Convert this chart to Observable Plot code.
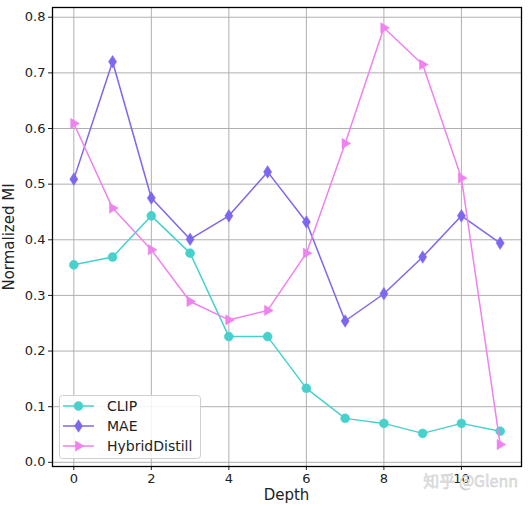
<!DOCTYPE html>
<html><head><meta charset="utf-8">
<script src="https://cdn.jsdelivr.net/npm/d3@7"></script>
<script src="https://cdn.jsdelivr.net/npm/@observablehq/plot@0.6"></script>
<style>body{margin:0;background:#fff} svg{display:block}</style>
</head><body><div id="chart"></div>
<script>
const depths = [0,1,2,3,4,5,6,7,8,9,10,11];
const seriesNames = ["CLIP","MAE","HybridDistill"];
const clip   = [0.355,0.369,0.443,0.376,0.226,0.226,0.133,0.079,0.070,0.052,0.070,0.056];
const mae    = [0.509,0.720,0.475,0.401,0.443,0.522,0.432,0.254,0.303,0.369,0.443,0.394];
const hybrid = [0.609,0.457,0.382,0.289,0.256,0.273,0.376,0.573,0.781,0.715,0.511,0.032];
const xTicks = [0,2,4,6,8,10];
const yTicks = [0,0.1,0.2,0.3,0.4,0.5,0.6,0.7,0.8];
const colors = ["#48D1CC","#7B68EE","#EE82EE"];

const values = [clip, mae, hybrid];
const rows = [];
seriesNames.forEach((name,i)=>depths.forEach((d,j)=>rows.push({series:name, depth:d, value:values[i][j]})));

const circleSym = {draw(ctx,size){const r=Math.sqrt(size/Math.PI); ctx.moveTo(r,0); ctx.arc(0,0,r,0,2*Math.PI);}};
const thinDiamond = {draw(ctx,size){const r=Math.sqrt(size/Math.PI); const h=r*1.4,w=r*0.9; ctx.moveTo(0,-h); ctx.lineTo(w,0); ctx.lineTo(0,h); ctx.lineTo(-w,0); ctx.closePath();}};
const triRight = {draw(ctx,size){const r=Math.sqrt(size/Math.PI); ctx.moveTo(r*1.25,0); ctx.lineTo(-r*0.7,-r*1.15); ctx.lineTo(-r*0.7,r*1.15); ctx.closePath();}};
const symbols = [circleSym, thinDiamond, triRight];

const marks = [
  Plot.gridX(xTicks, {stroke:"#b0b0b0", strokeOpacity:1, strokeWidth:1}),
  Plot.gridY(yTicks, {stroke:"#b0b0b0", strokeOpacity:1, strokeWidth:1}),
];
seriesNames.forEach((name,i)=>{
  const d = rows.filter(r=>r.series===name);
  marks.push(Plot.line(d, {x:"depth", y:"value", stroke:colors[i], strokeWidth:1.5}));
  marks.push(Plot.dot(d, {x:"depth", y:"value", fill:colors[i], stroke:colors[i], strokeWidth:0.5, r:4.5, symbol:symbols[i]}));
});
marks.push(Plot.axisX(xTicks, {tickSize:4, tickPadding:3, label:null, fontSize:13}));
marks.push(Plot.axisY(yTicks, {tickSize:4, tickPadding:3, label:null, fontSize:13, tickFormat:d3.format(".1f")}));
marks.push(Plot.frame({stroke:"#000", strokeWidth:1.3}));

const plot = Plot.plot({
  width:528, height:506,
  marginLeft:52, marginRight:7, marginTop:7, marginBottom:40,
  style:{fontFamily:"DejaVu Sans", fontSize:"13px", color:"#222", background:"#fff"},
  x:{domain:[-0.55,11.55]},
  y:{domain:[-0.0075,0.8175]},
  marks
});
document.getElementById("chart").appendChild(plot);

const svg = d3.select(plot);
svg.append("text").attr("x",286.5).attr("y",500).attr("text-anchor","middle")
  .attr("font-family","DejaVu Sans").attr("font-size",15).attr("fill","#222").text("Depth");
svg.append("text").attr("transform","translate(14,237) rotate(-90)").attr("text-anchor","middle")
  .attr("font-family","DejaVu Sans").attr("font-size",15).attr("fill","#222").text("Normalized MI");

const lg = svg.append("g");
lg.append("rect").attr("x",59.5).attr("y",395.5).attr("width",141).attr("height",63).attr("rx",3)
  .attr("fill","#fff").attr("fill-opacity",0.85).attr("stroke","#d0d0d0");
seriesNames.forEach((name,i)=>{
  const y = 406 + i*20;
  lg.append("line").attr("x1",63).attr("x2",94).attr("y1",y).attr("y2",y).attr("stroke",colors[i]).attr("stroke-width",1.5);
  const p = d3.path(); symbols[i].draw(p, Math.PI*4.5*4.5);
  lg.append("path").attr("d",p.toString()).attr("transform",`translate(78.5,${y})`).attr("fill",colors[i]).attr("stroke",colors[i]).attr("stroke-width",0.5);
  lg.append("text").attr("x",107).attr("y",y).attr("dy","0.35em").attr("text-anchor","start")
    .attr("font-family","DejaVu Sans").attr("font-size",14).attr("fill","#222").text(name);
});

svg.append("text").attr("x",518).attr("y",487).attr("text-anchor","end")
  .attr("font-family","Noto Sans CJK SC").attr("font-size",16).attr("fill","#e4e4e4")
  .attr("stroke","#c8c8c8").attr("stroke-width",0.4).text("知乎 @Glenn");
</script></body></html>
